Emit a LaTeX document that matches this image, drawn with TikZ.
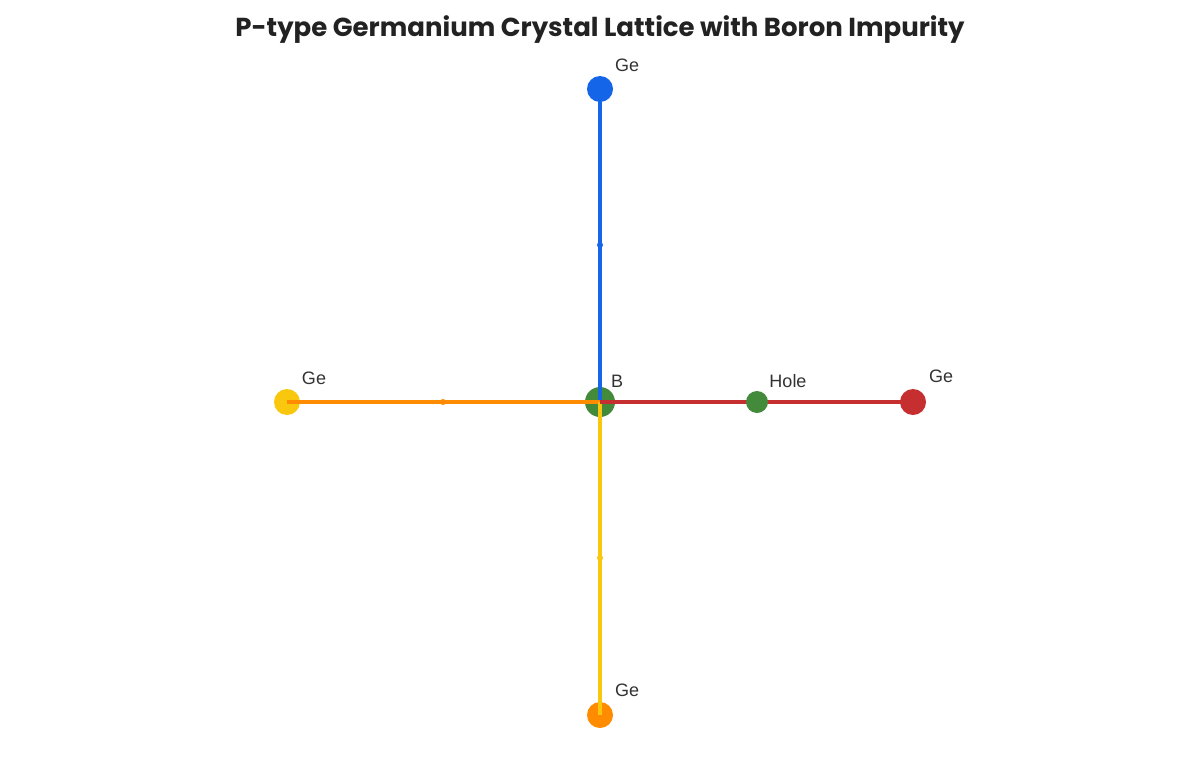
\documentclass[tikz,border=0pt]{standalone}
\usepackage{fontspec}
\setmainfont{Poppins}
\newfontfamily\lblfont{Liberation Sans}
\definecolor{gblue}{HTML}{1565E8}
\definecolor{gorange}{HTML}{FF8C00}
\definecolor{gyellow}{HTML}{F9C80E}
\definecolor{gred}{HTML}{C62F2F}
\definecolor{ggreen}{HTML}{438A3A}
\definecolor{txt}{HTML}{222222}
\definecolor{ltxt}{HTML}{333333}
\begin{document}
\begin{tikzpicture}[x=1pt,y=-1pt,
  atom/.style={circle,inner sep=0pt,minimum size=26pt},
  dot/.style={circle,inner sep=0pt,minimum size=6pt},
  bond/.style={line width=4.5pt},
  lbl/.style={text=ltxt,font=\lblfont\fontsize{18}{21}\selectfont,inner sep=0pt}]
\useasboundingbox[fill=white] (0,0) rectangle (1200,763);
\node[text=txt,font=\fontsize{26}{30}\selectfont\bfseries] (title) at (600,30) {P-type Germanium Crystal Lattice with Boron Impurity};
% atoms
\node[atom,fill=ggreen,minimum size=30pt] (B) at (600,402) {};
\node[atom,fill=gblue] (top) at (600,89) {};
\node[atom,fill=gyellow] (left) at (287,402) {};
\node[atom,fill=gred] (right) at (913,402) {};
\node[atom,fill=gorange] (bottom) at (600,715) {};
% bonds
\draw[bond,gblue] (top.center) -- (B.center);
\draw[bond,gorange] (left.center) -- (B.center);
\draw[bond,gyellow] (B.center) -- (bottom.center);
\draw[bond,gred] (B.center) -- (right.center);
% midpoint dots
\node[dot,fill=gblue] (m1) at (600,245) {};
\node[dot,fill=gorange] (m2) at (443,402) {};
\node[dot,fill=gyellow] (m3) at (600,558) {};
% hole
\node[atom,fill=ggreen,minimum size=22pt] (hole) at (757,402) {};
% labels
\node[lbl] (lt) at (627,65) {Ge};
\node[lbl] (ll) at (314,378) {Ge};
\node[lbl] (lr) at (941,376) {Ge};
\node[lbl] (lb) at (627,690) {Ge};
\node[lbl] (lB) at (617,381) {B};
\node[lbl] (lh) at (788,381) {Hole};
\end{tikzpicture}
\end{document}
